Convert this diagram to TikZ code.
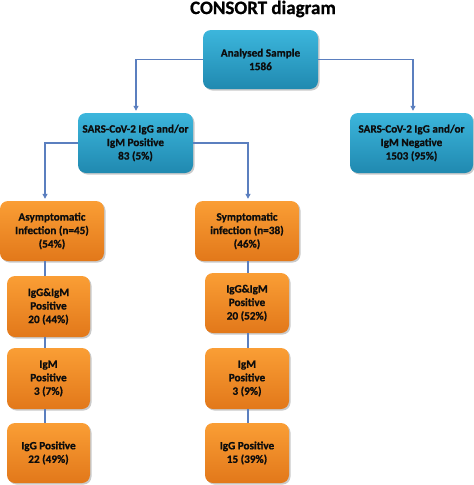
\documentclass[tikz,border=0pt]{standalone}
\usepackage{fontspec}
\setmainfont{Carlito}[BoldFeatures={FakeBold=0.8}]
\usetikzlibrary{arrows.meta,shadows,calc}
\definecolor{linec}{HTML}{5B7FBF}
\definecolor{bluetop}{HTML}{3CB6DC}
\definecolor{bluebot}{HTML}{2089B0}
\definecolor{orgtop}{HTML}{FA9E35}
\definecolor{orgbot}{HTML}{E2781A}
\tikzset{
  box/.style={rounded corners=8pt, align=center, inner sep=1pt,
    font=\fontsize{11.2}{13.5}\selectfont\bfseries, text=black!95,
    drop shadow={shadow xshift=1.5pt, shadow yshift=-1.5pt, opacity=0.35, fill=black!60}},
  bluebox/.style={box, top color=bluetop, bottom color=bluebot},
  orgbox/.style={box, top color=orgtop, bottom color=orgbot},
  conn/.style={draw=linec, line width=1.1pt},
  arr/.style={conn, -{Triangle[width=5pt,length=5pt]}, shorten >=2pt}
}
\begin{document}
\begin{tikzpicture}[x=1pt,y=-1pt]
\useasboundingbox (0,0) rectangle (474,485);
\node (title) at (263,9) {\fontsize{19}{22}\selectfont\bfseries CONSORT diagram};
\node[bluebox, minimum width=115pt, minimum height=59pt] (top) at (260.5,59.5) {Analysed Sample\\1586};
\node[bluebox, minimum width=115pt, minimum height=60pt] (pos) at (135.5,143) {SARS-CoV-2 IgG and/or\\IgM Positive\\83 (5\%)};
\node[bluebox, minimum width=123pt, minimum height=60pt] (neg) at (411.5,143) {SARS-CoV-2 IgG and/or\\IgM Negative\\1503 (95\%)};
\node[orgbox, minimum width=104pt, minimum height=60pt] (asym) at (52,231) {Asymptomatic\\Infection (n=45)\\(54\%)};
\node[orgbox, minimum width=104pt, minimum height=60pt] (sym) at (247,231) {Symptomatic\\infection (n=38)\\(46\%)};
\node[orgbox, minimum width=83pt, minimum height=61pt] (l1) at (48.5,306.5) {IgG\&IgM\\Positive\\20 (44\%)};
\node[orgbox, minimum width=84pt, minimum height=60pt] (r1) at (247,303) {IgG\&IgM\\Positive\\20 (52\%)};
\node[orgbox, minimum width=83pt, minimum height=61pt] (l2) at (48.5,378.5) {IgM\\Positive\\3 (7\%)};
\node[orgbox, minimum width=84pt, minimum height=61pt] (r2) at (247,378.5) {IgM\\Positive\\3 (9\%)};
\node[orgbox, minimum width=83pt, minimum height=60pt] (l3) at (48.5,453) {IgG Positive\\22 (49\%)};
\node[orgbox, minimum width=84pt, minimum height=60pt] (r3) at (247,453) {IgG Positive\\15 (39\%)};
\coordinate (lx) at (45,0);
\coordinate (px) at (136,0);
\coordinate (nx) at (413,0);
\coordinate (sx) at (248,0);
\draw[arr] (top.west) -| (pos.north -| px);
\draw[arr] (top.east) -| (neg.north -| nx);
\draw[arr] (pos.west) -| (asym.north -| lx);
\draw[arr] (pos.east) -| (sym.north -| sx);
\draw[conn] (asym.south -| lx) -- (l1.north -| lx);
\draw[conn] (l1.south -| lx) -- (l2.north -| lx);
\draw[conn] (l2.south -| lx) -- (l3.north -| lx);
\draw[conn] (sym.south -| sx) -- (r1.north -| sx);
\draw[conn] (r1.south -| sx) -- (r2.north -| sx);
\draw[conn] (r2.south -| sx) -- (r3.north -| sx);
\end{tikzpicture}
\end{document}
